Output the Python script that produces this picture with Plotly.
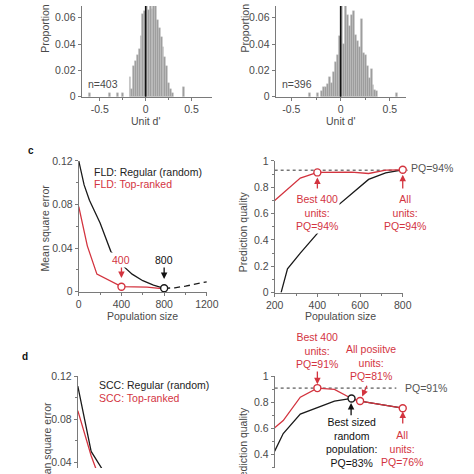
import plotly.graph_objects as go

W = H = 474
RED = "#d3343f"
BLK = "#1a1a1a"
BAR = "#9d9d9d"
TXT = "#4a4a4a"
AXC = "#7a7a7a"
FONT = "Liberation Sans, Arial, sans-serif"
FS = 10.5

# ---------------- data ----------------
# histogram (left): unit d' distribution, n=403
h1_x = [-0.61, -0.39, -0.31, -0.25, -0.17, -0.15, -0.13, -0.11, -0.09, -0.07, -0.05, -0.03, -0.01,
        0.01, 0.03, 0.05, 0.07, 0.09, 0.11, 0.13, 0.15, 0.17, 0.19, 0.21, 0.23, 0.25, 0.27, 0.29, 0.41]
h1_y = [0.0025, 0.0025, 0.0025, 0.0025, 0.015, 0.006, 0.023, 0.027, 0.032, 0.036, 0.046, 0.063, 0.065,
        0.075, 0.066, 0.080, 0.067, 0.078, 0.075, 0.058, 0.052, 0.045, 0.038, 0.030, 0.023, 0.010, 0.006, 0.0025, 0.0074]
# histogram (right): unit d' distribution, n=396
h2_x = [-0.31, -0.23, -0.19, -0.17, -0.15, -0.13, -0.11, -0.09, -0.07, -0.05, -0.03, -0.01,
        0.01, 0.03, 0.05, 0.07, 0.09, 0.11, 0.13, 0.15, 0.17, 0.19, 0.21, 0.23, 0.25, 0.27, 0.29,
        0.31, 0.33, 0.35, 0.37, 0.57]
h2_y = [0.0025, 0.0025, 0.0044, 0.0074, 0.0074, 0.0096, 0.015, 0.010, 0.019, 0.026, 0.032, 0.046,
        0.076, 0.040, 0.078, 0.062, 0.054, 0.062, 0.065, 0.047, 0.042, 0.038, 0.059, 0.033, 0.032, 0.023, 0.014,
        0.021, 0.009, 0.0054, 0.0045, 0.0025]
BIN_W = 0.02

# panel c left: FLD mean square error vs population size
cl_reg_x = [0, 50, 100, 200, 300, 400, 500, 600, 700, 800]
cl_reg_y = [0.120, 0.098, 0.084, 0.063, 0.037, 0.025, 0.016, 0.010, 0.006, 0.003]
cl_ext_x = [800, 900, 1000, 1100, 1200]
cl_ext_y = [0.003, 0.0035, 0.005, 0.007, 0.009]
cl_top_x = [0, 80, 170, 400, 640, 800]
cl_top_y = [0.078, 0.042, 0.016, 0.0045, 0.004, 0.0025]

# panel c right: FLD prediction quality
cr_top_x = [200, 320, 400, 480, 560, 640, 720, 800]
cr_top_y = [0.70, 0.87, 0.913, 0.915, 0.915, 0.905, 0.93, 0.933]
cr_reg_x = [230, 260, 320, 400, 480, 560, 640, 720, 800]
cr_reg_y = [0.0, 0.18, 0.30, 0.45, 0.64, 0.75, 0.86, 0.91, 0.933]
cr_pq = 0.93

# panel d left: SCC mean square error
dl_reg_x = [0, 125, 250, 375]
dl_reg_y = [0.111, 0.050, 0.030, 0.022]
dl_top_x = [0, 125, 250]
dl_top_y = [0.088, 0.046, 0.012]

# panel d right: SCC prediction quality
dr_x = [200, 240, 320, 400, 480, 560, 600, 800]
dr_top_y = [0.605, 0.66, 0.84, 0.91, 0.90, 0.83, 0.81, 0.755]
dr_reg_y = [0.425, 0.56, 0.71, 0.76, 0.81, 0.83, 0.81, 0.755]
dr_pq = 0.91


def px(v):
    return v / W


def py(v):
    return 1 - v / H


fig = go.Figure()

# histograms
for xs, ys, xa, ya in [(h1_x, h1_y, "x", "y"), (h2_x, h2_y, "x2", "y2")]:
    fig.add_trace(go.Bar(x=xs, y=ys, width=BIN_W, xaxis=xa, yaxis=ya,
                         marker=dict(color=BAR, line=dict(width=0.4, color="#c4c4c4")),
                         showlegend=False, hoverinfo="skip"))


def line(x, y, xa, ya, color, dash="solid", w=1.3):
    fig.add_trace(go.Scatter(x=x, y=y, xaxis=xa, yaxis=ya, mode="lines",
                             line=dict(color=color, width=w, dash=dash),
                             showlegend=False, hoverinfo="skip"))


def circ(x, y, xa, ya, color):
    fig.add_trace(go.Scatter(x=x, y=y, xaxis=xa, yaxis=ya, mode="markers",
                             marker=dict(size=7, color="white", line=dict(color=color, width=1.4)),
                             showlegend=False, hoverinfo="skip", cliponaxis=False))


# c left
line(cl_reg_x, cl_reg_y, "x3", "y3", BLK)
line(cl_ext_x, cl_ext_y, "x3", "y3", BLK, dash="6px,4px")
line(cl_top_x, cl_top_y, "x3", "y3", RED)
circ([cl_top_x[3]], [cl_top_y[3]], "x3", "y3", RED)
circ([cl_reg_x[-1]], [cl_reg_y[-1]], "x3", "y3", BLK)

# c right
line(cr_reg_x, cr_reg_y, "x4", "y4", BLK)
line(cr_top_x, cr_top_y, "x4", "y4", RED)
circ([cr_top_x[2], cr_top_x[-1]], [cr_top_y[2], cr_top_y[-1]], "x4", "y4", RED)

# d left
line(dl_reg_x, dl_reg_y, "x5", "y5", BLK)
line(dl_top_x, dl_top_y, "x5", "y5", RED)

# d right
line(dr_x, dr_reg_y, "x6", "y6", BLK)
line(dr_x, dr_top_y, "x6", "y6", RED)
circ([dr_x[5]], [dr_reg_y[5]], "x6", "y6", BLK)
circ([dr_x[3], dr_x[6], dr_x[7]], [dr_top_y[3], dr_top_y[6], dr_top_y[7]], "x6", "y6", RED)


def axis(domain, rng, tickvals, anchor, visible=True, minor=None, ticktext=None):
    d = dict(domain=domain, range=rng, tickvals=tickvals, anchor=anchor,
             showline=True, linecolor=AXC, linewidth=1, ticks="outside", ticklen=3,
             tickcolor=AXC, tickwidth=1, tickfont=dict(size=FS, color=TXT, family=FONT),
             showgrid=False, zeroline=False, fixedrange=True, visible=visible)
    if ticktext is not None:
        d["ticktext"] = ticktext
    if minor is not None:
        d["minor"] = dict(ticks="outside", dtick=minor, ticklen=2, tickcolor=AXC, showgrid=False)
    return d


yh = [py(93), 1.0]
fig.update_layout(
    xaxis=axis([px(76), px(212)], [-0.698, 0.719], [-0.5, 0, 0.5], "y", minor=0.25,
               ticktext=["-0.5", "0", "0.5"]),
    yaxis=axis(yh, [0, 0.0689], [0, 0.02, 0.04, 0.06], "x"),
    xaxis2=axis([px(279), px(415)], [-0.66, 0.66], [-0.5, 0, 0.5], "y2", minor=0.25,
                ticktext=["-0.5", "0", "0.5"]),
    yaxis2=axis(yh, [0, 0.0689], [0, 0.02, 0.04, 0.06], "x2"),
    xaxis3=axis([px(73), px(207)], [0, 1200], [0, 400, 800, 1200], "y3", minor=200),
    yaxis3=axis([py(293), py(159)], [0, 0.12], [0, 0.04, 0.08, 0.12], "x3", minor=0.02),
    xaxis4=axis([px(278), px(412)], [200, 800], [200, 400, 600, 800], "y4", minor=100),
    yaxis4=axis([py(294), py(159)], [0, 1], [0, 0.2, 0.4, 0.6, 0.8, 1], "x4", minor=0.1),
    xaxis5=axis([px(72), px(206)], [0, 1200], [0, 400, 800, 1200], "y5", visible=False),
    yaxis5=axis([0, py(380)], [0.0345, 0.12], [0.04, 0.08, 0.12], "x5", minor=0.02),
    xaxis6=axis([px(278), px(412)], [200, 800], [200, 400, 600, 800], "y6", visible=False),
    yaxis6=axis([0, py(380)], [0.295, 1], [0.4, 0.6, 0.8, 1], "x6", minor=0.1),
)

shapes = [
    dict(type="line", xref="x", yref="y domain", x0=0, x1=0, y0=0, y1=1,
         line=dict(color="#111", width=1.5), layer="above"),
    dict(type="line", xref="x2", yref="y2 domain", x0=0, x1=0, y0=0, y1=1,
         line=dict(color="#111", width=1.5), layer="above"),
    dict(type="line", xref="paper", yref="y4", x0=px(278), x1=px(417), y0=cr_pq, y1=cr_pq,
         line=dict(color="#333", width=1, dash="dot"), layer="below"),
    dict(type="line", xref="x6", yref="y6", x0=200, x1=770, y0=dr_pq, y1=dr_pq,
         line=dict(color="#333", width=1, dash="dot"), layer="below"),
]

ann = []


def txt(text, x, y, xref="paper", yref="paper", color=TXT, size=FS, xanchor="center",
        yanchor="middle", angle=0, bg=None):
    d = dict(text=text, x=x, y=y, xref=xref, yref=yref, showarrow=False, xanchor=xanchor,
             yanchor=yanchor, textangle=angle, font=dict(size=size, color=color, family=FONT))
    if bg:
        d["bgcolor"] = bg
        d["borderpad"] = 1
    ann.append(d)


def arrow(xr, yr, x, y_tail, y_tip, color, x_tail=None):
    ann.append(dict(xref=xr, yref=yr, x=x, y=y_tip, ax=x if x_tail is None else x_tail, ay=y_tail,
                    axref=xr, ayref=yr, text="", showarrow=True, arrowhead=2, arrowsize=1,
                    arrowwidth=1.3, arrowcolor=color))


# histogram texts
txt("Proportion", px(38), py(23), angle=-90)
txt("Proportion", px(247), py(23), angle=-90)
txt("Unit d'", px(143), py(118))
txt("Unit d'", px(347), py(118))
txt("n=403", px(81), py(80), xanchor="left")
txt("n=396", px(284), py(80), xanchor="left")

# panel c
txt("<b>c</b>", px(23), py(148), color="#111", size=10)
txt("Mean square error", px(38), py(228), angle=-90)
txt("Prediction quality", px(245), py(232), angle=-90)
txt("Population size", px(140), py(318))
txt("Population size", px(347), py(318))
txt("FLD: Regular (random)", px(87), py(170), color="#222", xanchor="left")
txt("FLD: Top-ranked", px(87), py(183), color=RED, xanchor="left")
txt("400", 400, 0.0287, "x3", "y3", color=RED, bg="white")
txt("800", 800, 0.0287, "x3", "y3", color="#111")
arrow("x3", "y3", 400, 0.0236, 0.0125, RED)
arrow("x3", "y3", 800, 0.0236, 0.0115, "#111")

txt("PQ=94%", px(419), py(166), color="#555", xanchor="left")
arrow("x4", "y4", 400, 0.78, 0.875, RED)
arrow("x4", "y4", 800, 0.78, 0.895, RED)
txt("Best 400<br>units:<br>PQ=94%", 400, 0.607, "x4", "y4", color=RED, bg="white")
txt("All<br>units:<br>PQ=94%", px(414), py(212), color=RED)

# panel d
txt("<b>d</b>", px(17), py(360), color="#111", size=10)
txt("Mean square error", px(39), py(451), angle=-90)
txt("Prediction quality", px(244), py(453), angle=-90)
txt("SCC: Regular (random)", px(92), py(389), color="#222", xanchor="left")
txt("SCC: Top-ranked", px(92), py(402), color=RED, xanchor="left")

txt("PQ=91%", px(412), py(392), color="#555", xanchor="left")
txt("Best 400<br>units:<br>PQ=91%", px(322), py(353), color=RED)
arrow("x6", "y6", 400, 1.05, 0.94, RED)
txt("All posiitve<br>units:<br>PQ=81%", px(379), py(366), color=RED)
arrow("x6", "y6", 610, 0.94, 0.845, RED, x_tail=635)
txt("Best sized<br>random<br>population:<br>PQ=83%", 558, 0.49, "x6", "y6", color="#111")
arrow("x6", "y6", 558, 0.69, 0.795, "#111")
txt("All<br>units:<br>PQ=76%", px(411), py(454), color=RED)
arrow("x6", "y6", 800, 0.625, 0.73, RED)

fig.update_layout(
    width=W, height=H, autosize=False,
    margin=dict(l=0, r=0, t=0, b=0, pad=0),
    paper_bgcolor="white", plot_bgcolor="white",
    bargap=0, showlegend=False,
    font=dict(family=FONT, size=FS, color=TXT),
    shapes=shapes, annotations=ann,
)

fig.write_html("out.html")
